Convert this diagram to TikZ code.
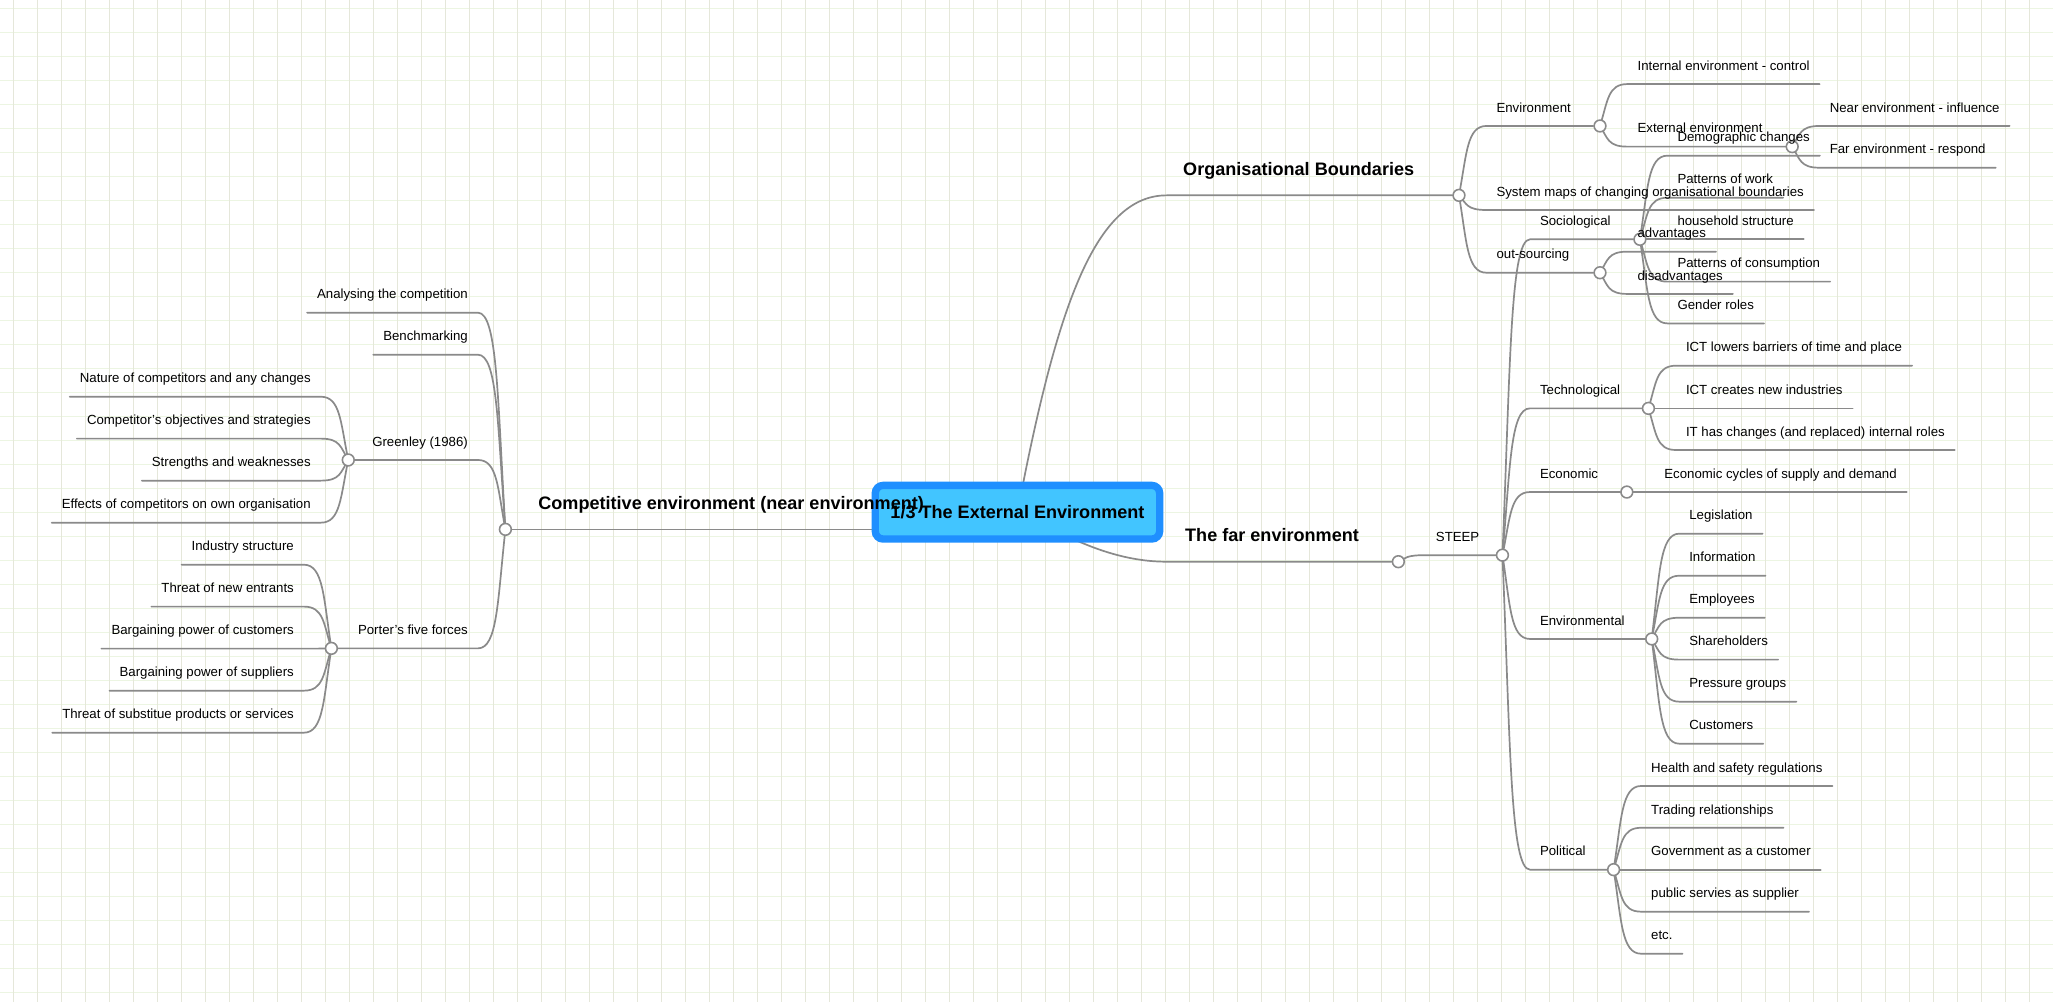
\documentclass[tikz,border=0pt]{standalone}
\usepackage{fontspec}
\setmainfont{Liberation Sans}
\usetikzlibrary{calc}
\pgfdeclarelayer{bg}
\pgfdeclarelayer{lines}
\pgfsetlayers{bg,lines,main}
\definecolor{linegray}{RGB}{138,138,138}
\definecolor{gridvcol}{RGB}{229,231,218}
\definecolor{gridhcol}{RGB}{236,245,226}
\definecolor{rootfill}{RGB}{66,197,255}
\definecolor{rootborder}{RGB}{31,143,255}
\newcommand\leaffont{\fontsize{10.1}{12}\selectfont}
\newcommand\blabelfont{\fontsize{13.8}{16}\selectfont\bfseries}
\newcommand\brR[3]{\draw[conn] let \p1=(#1), \p2=(#2) in (\p1) .. controls ({\x1+6pt},{\y1+0.6*(\y2-\y1)}) and ({\x1+6pt},{\y2}) .. (\p2) -- (#3);}
\newcommand\brL[3]{\draw[conn] let \p1=(#1), \p2=(#2) in (\p1) .. controls ({\x1-6pt},{\y1+0.6*(\y2-\y1)}) and ({\x1-6pt},{\y2}) .. (\p2) -- (#3);}
\begin{document}
\begin{tikzpicture}[x=1pt,y=-1pt,
  conn/.style={draw=linegray, line width=1.3pt, line cap=round},
  hubc/.style={circle, draw=linegray, fill=white, line width=1.2pt, minimum size=9pt, inner sep=0pt},
  leafR/.style={anchor=south west, font=\leaffont, inner xsep=7.5pt, inner ysep=0pt, text height=7.3pt, text depth=10.3pt},
  leafL/.style={leafR, anchor=south east},
  blabel/.style={anchor=base west, font=\blabelfont, inner sep=0pt},
  rootbox/.style={draw=rootborder, fill=rootfill, line width=5.6pt, rounded corners=6pt, minimum width=217.2pt, minimum height=41pt, font=\blabelfont, text height=9.9pt, text depth=0pt, inner sep=0pt},
  gridh/.style={draw=gridhcol, line width=0.76pt},
  gridv/.style={draw=gridvcol, line width=0.76pt}]
\useasboundingbox (0,0) rectangle (1568,765);
\begin{pgfonlayer}{bg}
  \fill[white] (0,0) rectangle (1568,765);
  \foreach \i in {0,...,41} \draw[gridh] (0,{6.34+18.33*\i}) -- (1568,{6.34+18.33*\i});
  \foreach \i in {0,...,85} \draw[gridv] ({10.16+18.33*\i},0) -- ({10.16+18.33*\i},765);
\end{pgfonlayer}

% root
\node[rootbox] (root) at (777.1,391.2) {1/3 The External Environment};

% hubs
\node[hubc] (h_ob) at (1114.3,149.2) {};
\node[hubc] (h_env) at (1222,96.2) {};
\node[hubc] (h_ext) at (1368.8,112) {};
\node[hubc] (h_out) at (1222,208.3) {};
\node[hubc] (h_far) at (1068,429) {};
\node[hubc] (h_steep) at (1147.5,424) {};
\node[hubc] (h_soc) at (1252.5,182.8) {};
\node[hubc] (h_tech) at (1259,311.9) {};
\node[hubc] (h_eco) at (1242.5,375.8) {};
\node[hubc] (h_envl) at (1261.5,488) {};
\node[hubc] (h_pol) at (1232.4,664.2) {};
\node[hubc] (h_comp) at (386,404.3) {};
\node[hubc] (h_gr) at (266,351.3) {};
\node[hubc] (h_po) at (253.1,495.2) {};

% main branch labels
\node[blabel] (l_ob) at (903.5,134.4) {Organisational Boundaries};
\node[blabel] (l_far) at (905,413.9) {The far environment};
\node[blabel] (l_comp) at (411,389.2) {Competitive environment (near environment)};

% organisational boundaries subtree
\node[leafR] (n_env) at (1135.3,96.2) {Environment};
\node[leafR] (n_sys) at (1135.3,160.4) {System maps of changing organisational boundaries};
\node[leafR] (n_out) at (1135.3,208.3) {out-sourcing};
\node[leafR] (n_int) at (1243,64.2) {Internal environment - control};
\node[leafR] (n_ext) at (1243,112) {External environment};
\node[leafR] (n_near) at (1389.8,96.2) {Near environment - influence};
\node[leafR] (n_farr) at (1389.8,128.1) {Far environment - respond};
\node[leafR] (n_adv) at (1243,192.2) {advantages};
\node[leafR] (n_dis) at (1243,224.5) {disadvantages};

% far environment subtree
\node[leafR] (n_steep) at (1089,424) {STEEP};
\node[leafR] (n_soc) at (1168.5,182.8) {Sociological};
\node[leafR] (n_tech) at (1168.5,311.9) {Technological};
\node[leafR] (n_eco) at (1168.5,375.8) {Economic};
\node[leafR] (n_envl) at (1168.5,488) {Environmental};
\node[leafR] (n_pol) at (1168.5,664.2) {Political};

\node[leafR] (s1) at (1273.5,118.9) {Demographic changes};
\node[leafR] (s2) at (1273.5,151) {Patterns of work};
\node[leafR] (s3) at (1273.5,182.8) {household structure};
\node[leafR] (s4) at (1273.5,215.1) {Patterns of consumption};
\node[leafR] (s5) at (1273.5,247) {Gender roles};

\node[leafR] (t1) at (1280,279.3) {ICT lowers barriers of time and place};
\node[leafR] (t2) at (1280,311.9) {ICT creates new industries};
\node[leafR] (t3) at (1280,343.7) {IT has changes (and replaced) internal roles};

\node[leafR] (e1) at (1263.5,375.8) {Economic cycles of supply and demand};

\node[leafR] (v1) at (1282.5,407.6) {Legislation};
\node[leafR] (v2) at (1282.5,439.7) {Information};
\node[leafR] (v3) at (1282.5,471.8) {Employees};
\node[leafR] (v4) at (1282.5,503.8) {Shareholders};
\node[leafR] (v5) at (1282.5,535.9) {Pressure groups};
\node[leafR] (v6) at (1282.5,568) {Customers};

\node[leafR] (p1) at (1253.4,600.3) {Health and safety regulations};
\node[leafR] (p2) at (1253.4,632.2) {Trading relationships};
\node[leafR] (p3) at (1253.4,664.2) {Government as a customer};
\node[leafR] (p4) at (1253.4,696.3) {public servies as supplier};
\node[leafR] (p5) at (1253.4,728.4) {etc.};

% competitive environment subtree
\node[leafL] (c1) at (365,238.8) {Analysing the competition};
\node[leafL] (c2) at (365,270.9) {Benchmarking};
\node[leafL] (n_gr) at (365,351.3) {Greenley (1986)};
\node[leafL] (n_po) at (365,495.2) {Porter's five forces};

\node[leafL] (g1) at (245,303) {Nature of competitors and any changes};
\node[leafL] (g2) at (245,335) {Competitor's objectives and strategies};
\node[leafL] (g3) at (245,367.1) {Strengths and weaknesses};
\node[leafL] (g4) at (245,399.2) {Effects of competitors on own organisation};

\node[leafL] (q1) at (232.1,431.3) {Industry structure};
\node[leafL] (q2) at (232.1,463.3) {Threat of new entrants};
\node[leafL] (q3) at (232.1,495.4) {Bargaining power of customers};
\node[leafL] (q4) at (232.1,527.5) {Bargaining power of suppliers};
\node[leafL] (q5) at (232.1,559.6) {Threat of substitue products or services};

% connectors
\begin{pgfonlayer}{lines}
  \draw[conn] (root.center) .. controls (806,240) and (835,149.2) .. (891,149.2) -- (h_ob);
  \draw[conn] (root.center) .. controls (800,400) and (840,429) .. (891,429) -- (h_far);
  \draw[conn] (root.center) -- (root.center |- h_comp) -- (h_comp);

  \brR{h_ob}{n_env.south west}{h_env}
  \brR{h_ob}{n_sys.south west}{n_sys.south east}
  \brR{h_ob}{n_out.south west}{h_out}
  \brR{h_env}{n_int.south west}{n_int.south east}
  \brR{h_env}{n_ext.south west}{h_ext}
  \brR{h_ext}{n_near.south west}{n_near.south east}
  \brR{h_ext}{n_farr.south west}{n_farr.south east}
  \brR{h_out}{n_adv.south west}{n_adv.south east}
  \brR{h_out}{n_dis.south west}{n_dis.south east}

  \brR{h_far}{n_steep.south west}{h_steep}
  \brR{h_steep}{n_soc.south west}{h_soc}
  \brR{h_steep}{n_tech.south west}{h_tech}
  \brR{h_steep}{n_eco.south west}{h_eco}
  \brR{h_steep}{n_envl.south west}{h_envl}
  \brR{h_steep}{n_pol.south west}{h_pol}

  \foreach \k in {s1,s2,s3,s4,s5} {\brR{h_soc}{\k.south west}{\k.south east}}
  \foreach \k in {t1,t2,t3} {\brR{h_tech}{\k.south west}{\k.south east}}
  \brR{h_eco}{e1.south west}{e1.south east}
  \foreach \k in {v1,v2,v3,v4,v5,v6} {\brR{h_envl}{\k.south west}{\k.south east}}
  \foreach \k in {p1,p2,p3,p4,p5} {\brR{h_pol}{\k.south west}{\k.south east}}

  \brL{h_comp}{c1.south east}{c1.south west}
  \brL{h_comp}{c2.south east}{c2.south west}
  \brL{h_comp}{n_gr.south east}{h_gr}
  \brL{h_comp}{n_po.south east}{h_po}
  \foreach \k in {g1,g2,g3,g4} {\brL{h_gr}{\k.south east}{\k.south west}}
  \foreach \k in {q1,q2,q3,q4,q5} {\brL{h_po}{\k.south east}{\k.south west}}
\end{pgfonlayer}
\end{tikzpicture}
\end{document}
